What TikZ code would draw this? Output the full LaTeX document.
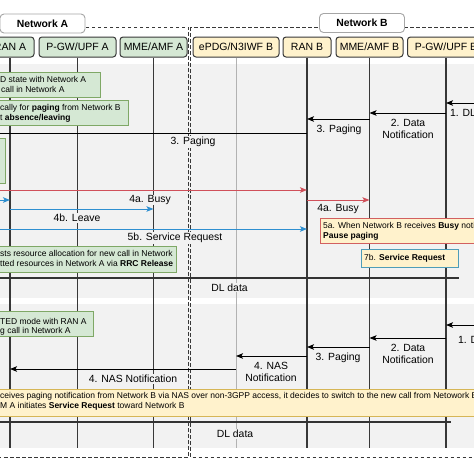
\documentclass[tikz,border=0pt]{standalone}
\usepackage{fontspec}
\setmainfont{Liberation Sans}
\usetikzlibrary{arrows.meta,calc}
\definecolor{bggray}{HTML}{F2F2F2}
\definecolor{gfill}{HTML}{D5E8D4}
\definecolor{gdraw}{HTML}{7FA866}
\definecolor{yfill}{HTML}{FFF2CC}
\definecolor{ydraw}{HTML}{D6B656}
\definecolor{rline}{HTML}{D0505A}
\definecolor{rdraw}{HTML}{D26060}
\definecolor{bline}{HTML}{2E8FD0}
\definecolor{tdraw}{HTML}{4F9DB8}
\definecolor{lline}{HTML}{383838}
\begin{document}
\begin{tikzpicture}[x=1pt,y=-1pt,
  hdr/.style={draw=lline, line width=1pt, rounded corners=3pt, minimum height=20pt, inner sep=0pt, font=\fontsize{10.5}{12}\selectfont},
  hA/.style={hdr, fill=gfill},
  hB/.style={hdr, fill=yfill},
  netlbl/.style={draw=gray!70, line width=0.9pt, fill=white, rounded corners=4pt, minimum height=19pt, minimum width=85pt, inner sep=0pt, font=\bfseries\fontsize{10.4}{12}\selectfont},
  life/.style={lline, line width=1.2pt},
  lifelight/.style={gray!60, line width=1pt},
  msg/.style={black, line width=0.9pt, -{Stealth[length=7pt,width=5.5pt,inset=1.5pt]}},
  plain/.style={black, line width=0.9pt},
  rmsg/.style={msg, rline, line width=1pt},
  bmsg/.style={msg, bline, line width=1pt},
  dlline/.style={gray!40!black, line width=2.6pt},
  lbl/.style={fill=bggray, inner sep=0.8pt, font=\fontsize{10.4}{12}\selectfont, align=center},
  notetxt/.style={font=\fontsize{8.5}{10}\selectfont, anchor=west, inner sep=0pt},
  gnote/.style={draw=gdraw, line width=1pt, fill=gfill, anchor=north west, inner sep=0pt},
  ynote/.style={draw=ydraw, line width=1pt, fill=yfill, anchor=north west, inner sep=0pt},
  netdash/.style={draw=lline, line width=0.9pt, dash pattern=on 3.5pt off 2.5pt},
]
\useasboundingbox (0,0) rectangle (474,474);
\clip (0,0) rectangle (474,474);
\fill[white] (0,0) rectangle (474,474);
% background
\fill[bggray] (-10,64) rectangle (490,448);
\fill[white] (-10,297.5) rectangle (490,304);

\coordinate (Lout) at (-30,0);
\coordinate (Rout) at (510,0);
\coordinate (bot) at (0,448);
\coordinate (dlend1) at (459,278);
\coordinate (dlend2) at (451,422);

% headers
\node[hA, minimum width=48pt] (hRANA) at (10,47) {RAN A};
\node[hA, minimum width=77pt] (hPGWA) at (77.5,47) {P-GW/UPF A};
\node[hA, minimum width=67pt] (hMMEA) at (153.5,47) {MME/AMF A};
\node[hB, minimum width=86pt] (hEPDG) at (236,47) {ePDG/N3IWF B};
\node[hB, minimum width=48pt] (hRANB) at (307,47) {RAN B};
\node[hB, minimum width=67pt] (hMMEB) at (369.5,47) {MME/AMF B};
\node[hB, minimum width=77pt] (hPGWB) at (446,47) {P-GW/UPF B};

% lifelines
\draw[life] (hRANA.south) -- (hRANA.south |- bot);
\draw[life] (hPGWA.south) -- (hPGWA.south |- bot);
\draw[life] (hMMEA.south) -- (hMMEA.south |- bot);
\draw[lifelight] (hEPDG.south) -- (hEPDG.south |- bot);
\draw[life] (hRANB.south) -- (hRANB.south |- bot);
\draw[life] (hMMEB.south) -- (hMMEB.south |- bot);
\draw[life] (hPGWB.south) -- (hPGWB.south |- bot);

% network containers
\draw[netdash] (-10,27) rectangle (188.5,457);
\draw[netdash] (190.5,27) rectangle (490,457);

% ---------- upper phase ----------
\draw[msg] (Rout |- 0,103) -- (hPGWB |- 0,103);
\draw[msg] (hPGWB |- 0,113) -- (hMMEB |- 0,113);
\draw[msg] (hMMEB |- 0,119) -- (hRANB |- 0,119);
\draw[plain] (hRANB |- 0,133) -- (Lout |- 0,133);
\draw[rmsg] (Lout |- 0,190) -- (hRANB |- 0,190);
\draw[rmsg] (hRANB |- 0,200) -- (hMMEB |- 0,200);
\draw[bmsg] (Lout |- 0,200) -- (hRANA |- 0,200);
\draw[bmsg] (hRANA |- 0,209) -- (hMMEA |- 0,209);
\draw[bmsg] (Lout |- 0,229) -- (hRANB |- 0,229);
\draw[dlline] (Lout |- 0,278) -- (dlend1);

% notes upper
\node[gnote, minimum width=105pt, minimum height=25pt] (n1) at (-5,72) {};
\node[notetxt] (n1a) at (0,79) {D state with Network A};
\node[notetxt] (n1b) at (1,89) {call in Network A};
\node[gnote, minimum width=133pt, minimum height=25pt] (n2) at (-5,100) {};
\node[notetxt] (n2a) at (0,108) {cally for \textbf{paging} from Network B};
\node[notetxt] (n2b) at (0,118) {t \textbf{absence/leaving}};
\node[gnote, minimum width=10pt, minimum height=45pt] (n3) at (-5,138) {};
\node[gnote, minimum width=181pt, minimum height=26pt] (n4) at (-5,246) {};
\node[notetxt] (n4a) at (0,253) {sts resource allocation for new call in Network};
\node[notetxt] (n4b) at (0,263) {tted resources in Network A via \textbf{RRC Release}};
\node[ynote, draw=rdraw, minimum width=170pt, minimum height=25pt] (n5a) at (320,218) {};
\node[notetxt] (n5aa) at (323,226) {5a. When Network B receives \textbf{Busy} notification};
\node[notetxt] (n5ab) at (323,236) {\textbf{Pause paging}};
\node[ynote, draw=tdraw, minimum width=97pt, minimum height=18pt] (n7b) at (361,249) {};
\node[notetxt] (n7ba) at (364,258) {7b. \textbf{Service Request}};

% labels upper
\node[lbl] (l3a) at (193,142) {3. Paging};
\node[lbl] (l3b) at (339,129.5) {3. Paging};
\node[lbl] (l2) at (408,129) {2. Data\\Notification};
\node[lbl, anchor=west] (l1) at (449,113) {1. DL};
\node[lbl] (l4a) at (150,200) {4a. Busy};
\node[lbl] (l4a2) at (338,209) {4a. Busy};
\node[lbl] (l4b) at (77,218) {4b. Leave};
\node[lbl] (l5b) at (175,238) {5b. Service Request};
\node[lbl] (ldl1) at (229.5,287.5) {DL data};

% ---------- lower phase ----------
\draw[msg] (Rout |- 0,325) -- (hPGWB |- 0,325);
\draw[msg] (hPGWB |- 0,338) -- (hMMEB |- 0,338);
\draw[msg] (hMMEB |- 0,347) -- (hRANB |- 0,347);
\draw[msg] (hRANB |- 0,356) -- (hEPDG |- 0,356);
\draw[msg] (hEPDG |- 0,369) -- (hRANA |- 0,369);
\draw[dlline] (Lout |- 0,422) -- (dlend2);

\node[gnote, minimum width=98pt, minimum height=25pt] (n6) at (-5,311) {};
\node[notetxt] (n6a) at (0,321.5) {TED mode with RAN A};
\node[notetxt] (n6b) at (0,331) {g call in Network A};
\node[ynote, minimum width=500pt, minimum height=27pt] (n8) at (-10,389) {};
\node[notetxt] (n8a) at (0,396) {ceives paging notification from Network B via NAS over non-3GPP access, it decides to switch to the new call from Netowork B};
\node[notetxt] (n8b) at (0,406) {M A initiates \textbf{Service Request} toward Network B};

\node[lbl] (m2) at (408,354) {2. Data\\Notification};
\node[lbl] (m3) at (338,358) {3. Paging};
\node[lbl] (m4) at (271,372) {4. NAS\\Notification};
\node[lbl] (m4b) at (133,379) {4. NAS Notification};
\node[lbl, anchor=west] (m1) at (457,340) {1. DL};
\node[lbl] (ldl2) at (235,434) {DL data};

% network labels
\node[netlbl] (netA) at (42.5,23.5) {Network A};
\node[netlbl] (netB) at (362,23) {Network B};
\end{tikzpicture}
\end{document}
